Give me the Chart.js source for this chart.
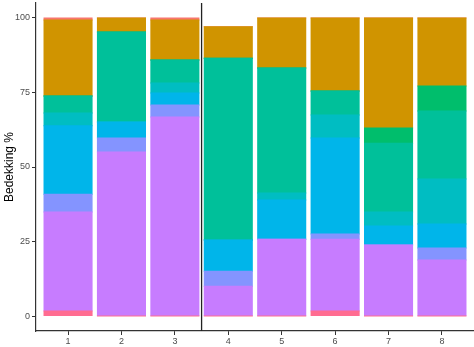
<!DOCTYPE html>
<html>
<head>
<meta charset="utf-8">
<script src="https://cdn.jsdelivr.net/npm/chart.js@4/dist/chart.umd.min.js"></script>
<style>
  html, body { margin: 0; padding: 0; background: #fff; }
  #wrap { width: 474px; height: 347px; }
</style>
</head>
<body>
<div id="wrap"><canvas id="myChart"></canvas></div>
<script>
// plots 1..8, cover per species group in %
let plots = ['1', '2', '3', '4', '5', '6', '7', '8'];
let pink     = [1.7, 0, 0, 0, 0, 1.7, 0, 0];
let purple   = [33.2, 55, 66.8, 10, 25.8, 24.1, 23.8, 18.8];
let lavender = [6, 4.7, 4, 5, 0, 1.7, 0, 4];
let skyblue  = [22.9, 5.4, 4, 10.5, 13.1, 32.2, 6.4, 8.1];
let cyan     = [4.3, 0, 3.4, 0, 2.4, 7.7, 4.7, 15.1];
let teal     = [5.7, 30.2, 7.7, 61, 41.9, 8.1, 23.1, 22.8];
let green    = [0, 0, 0, 0, 0, 0, 5.1, 8.4];
let gold     = [25.5, 4.7, 13.4, 10.5, 16.8, 24.5, 36.9, 22.8];
let red      = [0.7, 0, 0.7, 0, 0, 0, 0, 0];
let yTicks = [0, 25, 50, 75, 100];
let xTicks = [1, 2, 3, 4, 5, 6, 7, 8];
let splitAt = 3.5;

let series = [
  [pink, '#FF6C91'],
  [purple, '#C77CFF'],
  [lavender, '#8494FF'],
  [skyblue, '#00B5EA'],
  [cyan, '#00BDC2'],
  [teal, '#00C09A'],
  [green, '#00BE6C'],
  [gold, '#D09400'],
  [red, '#F8766D']
];

// black vertical line between plot 3 and 4
let splitLine = {
  id: 'splitLine',
  afterDatasetsDraw(chart) {
    let x = chart.scales.x.getPixelForValue(splitAt);
    let area = chart.chartArea;
    let ctx = chart.ctx;
    ctx.save();
    ctx.strokeStyle = '#222';
    ctx.lineWidth = 1.3;
    ctx.beginPath();
    ctx.moveTo(x, area.top);
    ctx.lineTo(x, area.bottom);
    ctx.stroke();
    ctx.restore();
  }
};

let ctx = document.getElementById('myChart').getContext('2d');
let chart = new Chart(ctx, {
  type: 'bar',
  data: {
    labels: plots,
    datasets: series.map(function (s) {
      return {
        data: s[0],
        backgroundColor: s[1],
        borderWidth: 0,
        inflateAmount: 0.5,
        categoryPercentage: 1,
        barPercentage: 0.9
      };
    })
  },
  options: {
    responsive: true,
    maintainAspectRatio: false,
    animation: false,
    layout: { padding: { top: 3, right: 0, left: 0, bottom: 0 } },
    plugins: { legend: { display: false }, tooltip: { enabled: false } },
    scales: {
      x: {
        type: 'linear',
        stacked: true,
        offset: false,
        min: 0.4,
        max: 8.6,
        afterBuildTicks: function (s) { s.ticks = xTicks.map(v => ({ value: v })); },
        afterFit: function (s) { s.height = 16; s.paddingLeft = 0; s.paddingRight = 0; },
        grid: { drawOnChartArea: false, offset: false, tickLength: 4, color: '#333' },
        border: { color: '#333', width: 1.2 },
        ticks: { color: '#4d4d4d', font: { family: 'Liberation Sans', size: 9 }, padding: 1, maxRotation: 0 }
      },
      y: {
        stacked: true,
        min: -5,
        max: 105,
        afterBuildTicks: function (s) { s.ticks = yTicks.map(v => ({ value: v })); },
        afterFit: function (s) { s.width = 36; s.paddingTop = 0; s.paddingBottom = 0; },
        grid: { drawOnChartArea: false, tickLength: 4, color: '#333' },
        border: { color: '#333', width: 1.2 },
        ticks: { color: '#4d4d4d', font: { family: 'Liberation Sans', size: 9 }, padding: 2 },
        title: {
          display: true,
          text: 'Bedekking %',
          color: '#000',
          font: { family: 'Liberation Sans', size: 12 },
          padding: { top: 2, bottom: 0 }
        }
      }
    }
  },
  plugins: [splitLine]
});
</script>
</body>
</html>
